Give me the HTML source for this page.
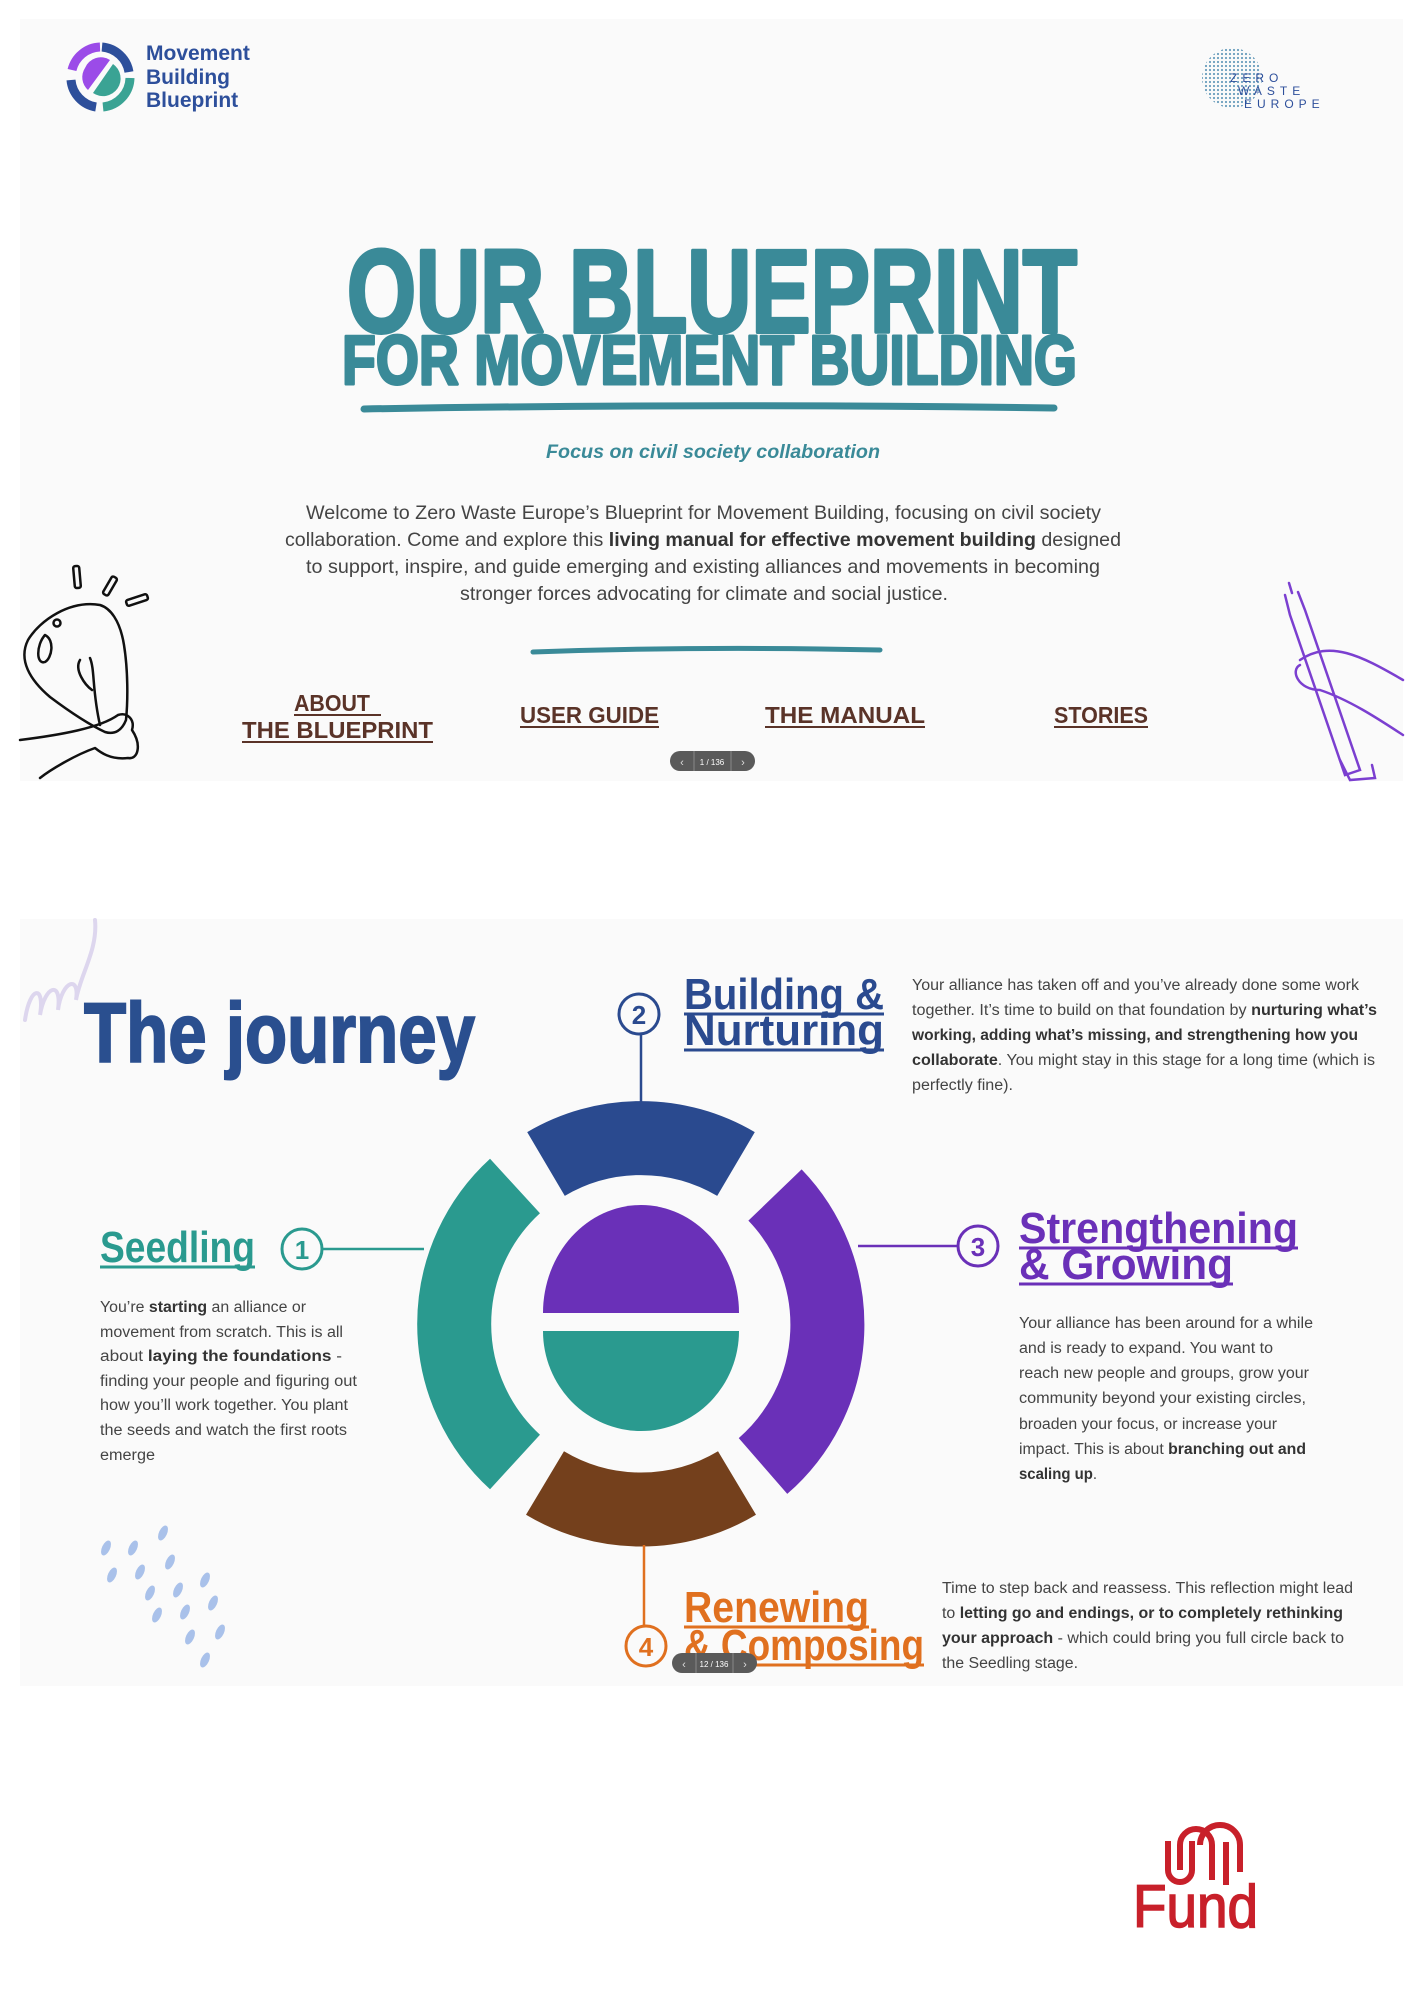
<!DOCTYPE html>
<html><head><meta charset="utf-8"><style>
html,body{margin:0;padding:0;background:#fff;}
svg{display:block}
.hd{font-family:"Liberation Sans Narrow","Liberation Sans",sans-serif;font-weight:bold}
.tx{font-family:"Liberation Sans Narrow","Liberation Sans",sans-serif;fill:#444}
</style></head><body>
<svg width="1414" height="2000" viewBox="0 0 1414 2000" xmlns="http://www.w3.org/2000/svg">
<defs>
<pattern id="dots" width="4" height="4" patternUnits="userSpaceOnUse"><circle cx="2" cy="2" r="1.1" fill="#3a7fa8"/></pattern>
</defs>
<rect width="1414" height="2000" fill="#fff"/>
<rect x="20" y="19" width="1383" height="762" fill="#fafafa"/>
<rect x="20" y="919" width="1383" height="767" fill="#fafafa"/>

<!-- Logo -->
<g fill="none" stroke-width="9">
<path d="M100,47 A30,30 0 0 0 72,70" stroke="#9b4be8"/>
<path d="M102,47 A30,30 0 0 1 129,72" stroke="#2d4f9b"/>
<path d="M130,78 A30,30 0 0 1 103,107" stroke="#3aa394"/>
<path d="M96,107 A30,30 0 0 1 71,80" stroke="#2d4f9b"/>
</g>
<path d="M85,68 A17,17 0 0 1 110,60 L88,90 A17,17 0 0 1 85,68Z" fill="#9b4be8"/>
<path d="M113,64 A17,17 0 0 1 93,93Z" fill="#3aa394"/>
<g class="hd" font-size="21" fill="#2d4f9b" font-family="Liberation Sans"><text x="146" y="60">Movement</text><text x="146" y="84">Building</text><text x="146" y="107">Blueprint</text></g>

<!-- ZWE -->
<circle cx="1232" cy="78" r="30" fill="url(#dots)" opacity="0.75"/>
<g font-family="Liberation Sans" font-size="12" fill="#2d4f9b" letter-spacing="5"><text x="1230" y="82">ZERO</text><text x="1238" y="95">WASTE</text><text x="1244" y="108">EUROPE</text></g>

<!-- Title -->
<text class="hd" x="347" y="332" font-size="118" fill="#3a8a98" stroke="#3a8a98" stroke-width="4" stroke-linejoin="round" textLength="730" lengthAdjust="spacingAndGlyphs">OUR BLUEPRINT</text>
<text class="hd" x="342" y="384" font-size="70" fill="#3a8a98" stroke="#3a8a98" stroke-width="3" stroke-linejoin="round" textLength="735" lengthAdjust="spacingAndGlyphs">FOR MOVEMENT BUILDING</text>
<path d="M364,409 Q700,403 1054,408" stroke="#3a8a98" stroke-width="7" stroke-linecap="round" fill="none"/>
<text class="hd" x="546" y="458" font-size="19" font-style="italic" fill="#3a8a98" textLength="334" lengthAdjust="spacingAndGlyphs">Focus on civil society collaboration</text>

<g class="tx" font-size="19.5" fill="#444">
<text x="306" y="519" textLength="795" lengthAdjust="spacingAndGlyphs">Welcome to Zero Waste Europe’s Blueprint for Movement Building, focusing on civil society</text>
<text x="285" y="546" textLength="836" lengthAdjust="spacingAndGlyphs">collaboration. Come and explore this <tspan font-weight="bold" fill="#333">living manual for effective movement building</tspan> designed</text>
<text x="306" y="573" textLength="794" lengthAdjust="spacingAndGlyphs">to support, inspire, and guide emerging and existing alliances and movements in becoming</text>
<text x="460" y="600" textLength="488" lengthAdjust="spacingAndGlyphs">stronger forces advocating for climate and social justice.</text>
</g>
<path d="M533,652 Q700,646 880,650" stroke="#3a8a98" stroke-width="5" stroke-linecap="round" fill="none"/>

<!-- Nav -->
<g class="hd" font-size="23" fill="#5a3328">
<text x="294" y="711" textLength="76" lengthAdjust="spacingAndGlyphs">ABOUT</text>
<text x="242" y="738" textLength="191" lengthAdjust="spacingAndGlyphs">THE BLUEPRINT</text>
<text x="520" y="723" textLength="139" lengthAdjust="spacingAndGlyphs">USER GUIDE</text>
<text x="765" y="723" textLength="160" lengthAdjust="spacingAndGlyphs">THE MANUAL</text>
<text x="1054" y="723" textLength="94" lengthAdjust="spacingAndGlyphs">STORIES</text>
</g>
<g stroke="#5a3328" stroke-width="2"><line x1="294" y1="715" x2="381" y2="715"/><line x1="242" y1="742" x2="433" y2="742"/><line x1="520" y1="727" x2="659" y2="727"/><line x1="765" y1="727" x2="925" y2="727"/><line x1="1054" y1="727" x2="1148" y2="727"/></g>

<!-- pager 1 -->
<g><rect x="670" y="751" width="85" height="20" rx="10" fill="#5a5a5a"/><line x1="694" y1="751" x2="694" y2="771" stroke="#888"/><line x1="731" y1="751" x2="731" y2="771" stroke="#888"/>
<text x="712" y="765" font-family="Liberation Sans" font-size="8" fill="#fff" text-anchor="middle">1 / 136</text>
<text x="682" y="766" font-family="Liberation Sans" font-size="11" fill="#ddd" text-anchor="middle">‹</text><text x="743" y="766" font-family="Liberation Sans" font-size="11" fill="#ddd" text-anchor="middle">›</text></g>

<!-- bulb doodle -->
<g fill="none" stroke="#111" stroke-width="2.5" stroke-linecap="round" stroke-linejoin="round">
<rect x="74" y="566" width="6" height="22" rx="2" transform="rotate(-5 77 577)"/>
<rect x="107" y="576" width="6" height="20" rx="2" transform="rotate(30 110 586)"/>
<rect x="126" y="597" width="22" height="6" rx="2" transform="rotate(-18 137 600)"/>
<path d="M100,605 C70,600 40,620 28,640 C18,660 30,680 50,697 C70,712 90,725 105,732 C115,735 122,730 126,720 C128,700 128,670 124,645 C120,620 110,608 100,605Z"/>
<path d="M45,635 C36,645 36,665 45,662 C52,658 55,640 45,635Z"/>
<circle cx="57" cy="623" r="3.5"/>
<path d="M80,660 C74,670 85,685 92,690 M90,658 C95,670 92,690 100,725"/>
<path d="M20,740 C60,735 100,728 118,715 C128,712 135,720 132,730 C142,745 138,760 128,758 C110,760 100,752 95,748 C75,755 50,770 40,778"/>
</g>
<!-- pen doodle -->
<g fill="none" stroke="#7b3fd0" stroke-width="2.5" stroke-linecap="round">
<path d="M1285,595 L1290,615 L1345,775 L1360,770 L1305,610 L1298,592"/>
<path d="M1292,593 L1289,583"/>
<path d="M1300,660 C1330,640 1360,655 1403,680 M1300,665 C1290,670 1298,690 1320,690 C1350,700 1380,720 1403,735"/>
<path d="M1340,760 L1350,780 L1375,778 L1372,765"/>
</g>

<!-- Journey swirl -->
<g fill="none" stroke="#ddd6ee" stroke-width="4" stroke-linecap="round">
<path d="M25,1020 C30,985 45,985 40,1015 C45,985 62,980 58,1010 C62,980 80,975 76,1000 C80,975 98,950 95,920"/>
</g>
<!-- raindrops -->
<g fill="#a9c1ea">
<ellipse cx="106" cy="1548" rx="4" ry="8" transform="rotate(25 106 1548)"/>
<ellipse cx="133" cy="1548" rx="4" ry="8" transform="rotate(25 133 1548)"/>
<ellipse cx="163" cy="1533" rx="4" ry="8" transform="rotate(25 163 1533)"/>
<ellipse cx="112" cy="1575" rx="4" ry="8" transform="rotate(25 112 1575)"/>
<ellipse cx="140" cy="1572" rx="4" ry="8" transform="rotate(25 140 1572)"/>
<ellipse cx="170" cy="1562" rx="4" ry="8" transform="rotate(25 170 1562)"/>
<ellipse cx="150" cy="1593" rx="4" ry="8" transform="rotate(25 150 1593)"/>
<ellipse cx="178" cy="1590" rx="4" ry="8" transform="rotate(25 178 1590)"/>
<ellipse cx="205" cy="1580" rx="4" ry="8" transform="rotate(25 205 1580)"/>
<ellipse cx="157" cy="1615" rx="4" ry="8" transform="rotate(25 157 1615)"/>
<ellipse cx="185" cy="1612" rx="4" ry="8" transform="rotate(25 185 1612)"/>
<ellipse cx="213" cy="1603" rx="4" ry="8" transform="rotate(25 213 1603)"/>
<ellipse cx="190" cy="1637" rx="4" ry="8" transform="rotate(25 190 1637)"/>
<ellipse cx="220" cy="1632" rx="4" ry="8" transform="rotate(25 220 1632)"/>
<ellipse cx="205" cy="1660" rx="4" ry="8" transform="rotate(25 205 1660)"/>
</g>

<text class="hd" x="84" y="1062" font-size="84" fill="#2a4f8f" stroke="#2a4f8f" stroke-width="2" textLength="391" lengthAdjust="spacingAndGlyphs">The journey</text>

<!-- ring -->
<g fill="none" stroke-width="74">
<path d="M546,1164 A187,187 0 0 1 736,1164" stroke="#2a4a8f"/>
<path d="M775,1195 A187,187 0 0 1 763,1466" stroke="#6a30b8"/>
<path d="M737,1483 A187,187 0 0 1 545,1483" stroke="#74401c"/>
<path d="M515,1462 A187,187 0 0 1 515,1186" stroke="#2a9a8f"/>
</g>
<path d="M543,1313 A98,108 0 0 1 739,1313 Z" fill="#6a30b8"/>
<path d="M543,1331 A98,100 0 0 0 739,1331 Z" fill="#2a9a8f"/>

<!-- connectors -->
<g fill="none" stroke-width="2.5">
<line x1="641" y1="1034" x2="641" y2="1110" stroke="#2a4a8f"/>
<circle cx="639" cy="1014" r="20" stroke="#2a4a8f" stroke-width="3"/>
<line x1="322" y1="1249" x2="424" y2="1249" stroke="#2a9a8f"/>
<circle cx="302" cy="1249" r="20" stroke="#2a9a8f" stroke-width="3"/>
<line x1="858" y1="1246" x2="958" y2="1246" stroke="#6a30b8"/>
<circle cx="978" cy="1246" r="20" stroke="#6a30b8" stroke-width="3"/>
<line x1="644" y1="1545" x2="644" y2="1626" stroke="#e0701f"/>
<circle cx="646" cy="1646" r="20" stroke="#e0701f" stroke-width="3"/>
</g>
<g class="hd" font-size="26" text-anchor="middle">
<text x="639" y="1024" fill="#2a4a8f">2</text>
<text x="302" y="1259" fill="#2a9a8f">1</text>
<text x="978" y="1256" fill="#6a30b8">3</text>
<text x="646" y="1656" fill="#e0701f">4</text>
</g>

<!-- headings -->
<g class="hd" font-size="44">
<text x="684" y="1009" fill="#2a4a8f" textLength="200" lengthAdjust="spacingAndGlyphs">Building &amp;</text>
<text x="684" y="1045" fill="#2a4a8f" textLength="200" lengthAdjust="spacingAndGlyphs">Nurturing</text>
<text x="100" y="1262" fill="#2a9a8f" textLength="155" lengthAdjust="spacingAndGlyphs">Seedling</text>
<text x="1019" y="1243" fill="#6a30b8" textLength="279" lengthAdjust="spacingAndGlyphs">Strengthening</text>
<text x="1019" y="1279" fill="#6a30b8" textLength="214" lengthAdjust="spacingAndGlyphs">&amp; Growing</text>
<text x="684" y="1622" fill="#e0701f" textLength="185" lengthAdjust="spacingAndGlyphs">Renewing</text>
<text x="684" y="1660" fill="#e0701f" textLength="240" lengthAdjust="spacingAndGlyphs">&amp; Composing</text>
</g>
<g stroke-width="3">
<line x1="684" y1="1014" x2="884" y2="1014" stroke="#2a4a8f"/><line x1="684" y1="1050" x2="884" y2="1050" stroke="#2a4a8f"/>
<line x1="100" y1="1267" x2="255" y2="1267" stroke="#2a9a8f"/>
<line x1="1019" y1="1248" x2="1298" y2="1248" stroke="#6a30b8"/><line x1="1019" y1="1284" x2="1233" y2="1284" stroke="#6a30b8"/>
<line x1="684" y1="1627" x2="869" y2="1627" stroke="#e0701f"/><line x1="684" y1="1665" x2="924" y2="1665" stroke="#e0701f"/>
</g>

<!-- descriptions -->
<g class="tx" font-size="15.5">
<text x="912" y="990" textLength="447" lengthAdjust="spacingAndGlyphs">Your alliance has taken off and you’ve already done some work</text>
<text x="912" y="1015" textLength="465" lengthAdjust="spacingAndGlyphs">together. It’s time to build on that foundation by <tspan font-weight="bold" fill="#333">nurturing what’s</tspan></text>
<text x="912" y="1040" textLength="446" lengthAdjust="spacingAndGlyphs" font-weight="bold" fill="#333">working, adding what’s missing, and strengthening how you</text>
<text x="912" y="1065" textLength="463" lengthAdjust="spacingAndGlyphs"><tspan font-weight="bold" fill="#333">collaborate</tspan>. You might stay in this stage for a long time (which is</text>
<text x="912" y="1090" textLength="101" lengthAdjust="spacingAndGlyphs">perfectly fine).</text>

<text x="100" y="1312" textLength="206" lengthAdjust="spacingAndGlyphs">You’re <tspan font-weight="bold" fill="#333">starting</tspan> an alliance or</text>
<text x="100" y="1337" textLength="243" lengthAdjust="spacingAndGlyphs">movement from scratch. This is all</text>
<text x="100" y="1361" textLength="242" lengthAdjust="spacingAndGlyphs">about <tspan font-weight="bold" fill="#333">laying the foundations</tspan> -</text>
<text x="100" y="1386" textLength="257" lengthAdjust="spacingAndGlyphs">finding your people and figuring out</text>
<text x="100" y="1410" textLength="248" lengthAdjust="spacingAndGlyphs">how you’ll work together. You plant</text>
<text x="100" y="1435" textLength="247" lengthAdjust="spacingAndGlyphs">the seeds and watch the first roots</text>
<text x="100" y="1460" textLength="55" lengthAdjust="spacingAndGlyphs">emerge</text>

<text x="1019" y="1328" textLength="294" lengthAdjust="spacingAndGlyphs">Your alliance has been around for a while</text>
<text x="1019" y="1353" textLength="254" lengthAdjust="spacingAndGlyphs">and is ready to expand. You want to</text>
<text x="1019" y="1378" textLength="290" lengthAdjust="spacingAndGlyphs">reach new people and groups, grow your</text>
<text x="1019" y="1403" textLength="287" lengthAdjust="spacingAndGlyphs">community beyond your existing circles,</text>
<text x="1019" y="1429" textLength="258" lengthAdjust="spacingAndGlyphs">broaden your focus, or increase your</text>
<text x="1019" y="1454" textLength="287" lengthAdjust="spacingAndGlyphs">impact. This is about <tspan font-weight="bold" fill="#333">branching out and</tspan></text>
<text x="1019" y="1479" textLength="78" lengthAdjust="spacingAndGlyphs"><tspan font-weight="bold" fill="#333">scaling up</tspan>.</text>

<text x="942" y="1593" textLength="411" lengthAdjust="spacingAndGlyphs">Time to step back and reassess. This reflection might lead</text>
<text x="942" y="1618" textLength="401" lengthAdjust="spacingAndGlyphs">to <tspan font-weight="bold" fill="#333">letting go and endings, or to completely rethinking</tspan></text>
<text x="942" y="1643" textLength="402" lengthAdjust="spacingAndGlyphs"><tspan font-weight="bold" fill="#333">your approach</tspan> - which could bring you full circle back to</text>
<text x="942" y="1668" textLength="136" lengthAdjust="spacingAndGlyphs">the Seedling stage.</text>
</g>

<!-- pager 2 -->
<g><rect x="672" y="1653" width="85" height="20" rx="10" fill="#5a5a5a"/><line x1="696" y1="1653" x2="696" y2="1673" stroke="#888"/><line x1="733" y1="1653" x2="733" y2="1673" stroke="#888"/>
<text x="714" y="1667" font-family="Liberation Sans" font-size="8" fill="#fff" text-anchor="middle">12 / 136</text>
<text x="684" y="1668" font-family="Liberation Sans" font-size="11" fill="#ddd" text-anchor="middle">‹</text><text x="745" y="1668" font-family="Liberation Sans" font-size="11" fill="#ddd" text-anchor="middle">›</text></g>

<!-- UM Fund -->
<g fill="none" stroke="#c8202a" stroke-width="6">
<path d="M1168,1841 L1168,1870 A12,12 0 0 0 1192,1870 L1192,1841"/>
<path d="M1180,1870 L1180,1845 A16,16 0 0 1 1212,1845 L1212,1880"/>
<path d="M1200,1845 A20,20 0 0 1 1240,1845 L1240,1872"/>
<path d="M1226,1842 L1226,1885"/>
</g>
<text x="1133" y="1927" font-family="Liberation Sans" font-size="60" fill="#c8202a" stroke="#c8202a" stroke-width="1.5" textLength="125" lengthAdjust="spacingAndGlyphs">Fund</text>
</svg>
</body></html>
